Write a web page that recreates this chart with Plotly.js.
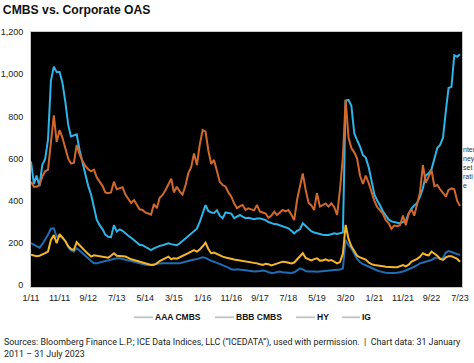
<!DOCTYPE html>
<html>
<head>
<meta charset="utf-8">
<script src="https://cdn.plot.ly/plotly-3.0.1.min.js"></script>
<style>
  html, body { margin: 0; padding: 0; background: #fff; }
  #chart { width: 474px; height: 363px; }
</style>
</head>
<body>
<div id="chart"></div>
<script>
// Monthly OAS (bps), Jan 2011 – Jul 2023
const startYear = 2011;
const tickLabels = ['1/11','11/11','9/12','7/13','5/14','3/15','1/16','11/16','9/17','7/18','5/19','3/20','1/21','11/21','9/22','7/23'];
const seriesNames = ['AAA CMBS', 'BBB CMBS', 'HY', 'IG'];

const aaaCmbs = [
  200,192,185,178,195,215,240,268,270,230,
  232,225,210,180,165,160,175,165,152,140,
  128,115,105,104,108,112,115,118,120,125,
  128,128,125,120,118,115,112,108,104,
  100,97,96,96,98,102,104,104,104,104,103,
  103,104,104,108,112,116,120,122,124,128,
  133,130,122,116,112,106,104,96,90,84,
  76,74,76,75,72,70,
  70,68,66,66,68,70,68,62,58,60,
  63,65,62,60,57,58,62,70,80,75,
  68,65,66,65,64,65,66,68,70,70,
  72,72,75,80,215,190,175,
  150,125,110,100,95,88,80,75,70,66,
  62,60,58,57,58,60,62,65,70,75,
  80,88,95,104,108,112,115,120,128,132,
  125,130,155,162,158,152,148,144
];
const bbbCmbs = [
  586,480,520,470,570,600,690,970,1035,1010,
  1010,960,870,760,705,710,715,640,585,520,
  470,430,360,310,285,265,240,230,228,285,
  255,265,258,245,235,225,215,205,192,
  190,182,175,167,175,183,187,190,195,199,195,
  192,190,198,210,222,235,245,258,268,300,
  340,380,352,345,343,355,330,318,345,343,
  340,318,325,333,325,318,
  320,315,313,316,317,313,309,300,294,290,
  289,285,278,274,270,258,246,258,265,294,
  282,270,256,250,246,243,240,238,238,242,
  246,243,246,250,875,878,850,
  720,688,657,617,605,560,500,430,400,380,
  350,330,312,303,298,296,294,300,305,340,
  365,378,390,420,460,520,530,550,605,650,
  665,700,830,935,940,1090,1083,1095
];
const hy = [
  490,467,467,475,515,540,548,690,805,680,
  735,700,650,600,578,580,665,620,590,565,
  550,540,548,510,490,470,440,436,440,491,
  455,460,465,430,410,390,404,380,360,
  357,345,340,335,385,365,415,428,450,475,505,
  440,467,445,430,470,530,560,625,570,665,
  736,728,640,575,594,546,490,475,467,440,
  420,388,365,375,380,357,
  365,360,355,380,350,345,340,320,330,349,
  333,345,357,350,357,335,309,404,475,530,
  452,390,380,357,436,373,380,388,373,388,
  370,333,452,610,878,700,650,
  630,600,520,480,520,485,440,400,370,355,
  340,310,295,268,283,280,286,330,285,341,
  360,330,385,440,570,485,515,545,470,475,
  455,440,420,452,459,455,400,375
];
const ig = [
  145,140,138,140,145,152,160,215,238,200,
  243,228,210,185,172,168,205,190,178,162,
  148,136,142,140,136,135,132,131,140,152,
  140,138,137,136,130,123,120,116,112,
  106,102,98,96,97,104,115,122,130,136,124,
  128,126,132,136,145,152,160,167,160,170,
  185,202,172,152,155,148,143,136,132,128,
  126,122,120,118,115,112,
  110,108,106,104,100,97,102,100,94,98,
  104,108,112,110,107,104,108,123,140,152,
  130,123,118,124,128,117,118,123,117,120,
  112,104,110,150,286,220,185,
  160,140,132,128,122,108,100,96,95,92,
  90,88,86,86,85,86,90,96,90,98,
  112,118,125,135,152,145,142,160,150,140,
  125,120,132,138,138,132,125,112
];

function pad(n){ return (n < 10 ? '0' : '') + n; }
const dates = aaaCmbs.map((_, i) => (startYear + Math.floor(i / 12)) + '-' + pad(i % 12 + 1) + '-01');
const tickVals = tickLabels.map(t => { const p = t.split('/'); return '20' + p[1] + '-' + pad(+p[0]) + '-01'; });

const FONT = '"Liberation Sans", Arial, sans-serif';
const colors = ['#1f6db3', '#2db4e8', '#d2692c', '#f6b52e'];
const values = [aaaCmbs, bbbCmbs, hy, ig];

const traces = values.map((v, k) => ({
  x: dates, y: v, type: 'scatter', mode: 'lines', name: seriesNames[k],
  line: { color: colors[k], width: 2 }, showlegend: false, hoverinfo: 'skip'
}));

// legend drawn below the plot (gray key lines, bold labels)
const plotL = 31, plotW = 431, plotB = 287, plotH = 255;
const px = v => (v - plotL) / plotW;
const py = v => (plotB - v) / plotH;
const legendKeys = [[134, 153], [215, 234], [296, 315], [342, 360]];
const legendY = 317.3;
const shapes = legendKeys.map(k => ({
  type: 'line', xref: 'paper', yref: 'paper',
  x0: px(k[0]), x1: px(k[1]), y0: py(legendY), y1: py(legendY),
  line: { color: '#c2c2c2', width: 1.8 }
}));
const legendAnn = seriesNames.map((n, i) => ({
  xref: 'paper', yref: 'paper', x: px(legendKeys[i][1] + 1), y: py(legendY),
  xanchor: 'left', yanchor: 'middle', showarrow: false, borderpad: 0,
  text: '<b>' + n + '</b>', font: { family: FONT, size: 8.5, color: '#111' }
}));

const layout = {
  width: 474, height: 363,
  margin: { l: 31, r: 12, t: 32, b: 76, pad: 0 },
  paper_bgcolor: '#ffffff',
  plot_bgcolor: '#000000',
  showlegend: false,
  font: { family: FONT, size: 9, color: '#222' },
  title: {
    text: '<b>CMBS vs. Corporate OAS</b>',
    font: { family: FONT, size: 12.2, color: '#111' },
    x: 0.006, xanchor: 'left', xref: 'container',
    y: 0.972, yanchor: 'middle', yref: 'container'
  },
  xaxis: {
    type: 'date',
    range: ['2011-01-01', '2023-07-22'],
    tickvals: tickVals, ticktext: tickLabels,
    showgrid: false, zeroline: false, ticks: '',
    showline: true, linecolor: '#c8c8c8', linewidth: 1, mirror: true,
    tickfont: { family: FONT, size: 9, color: '#222' },
    ticklabelstandoff: 2
  },
  yaxis: {
    range: [-8, 1200],
    tickvals: [0, 200, 400, 600, 800, 1000, 1200],
    tickformat: ',d',
    showgrid: false, zeroline: false, ticks: '',
    showline: true, linecolor: '#c8c8c8', linewidth: 1, mirror: true,
    tickfont: { family: FONT, size: 9, color: '#222' },
    ticklabelstandoff: 5
  },
  shapes: shapes,
  annotations: legendAnn.concat([
    {
      xref: 'paper', yref: 'paper', x: -0.067, y: -0.19, xanchor: 'left', yanchor: 'top',
      align: 'left', showarrow: false,
      text: 'Sources: Bloomberg Finance L.P.; ICE Data Indices, LLC (\u201cICEDATA\u201d), used with permission.  |  Chart data: 31 January<br>2011 \u2013 31 July 2023',
      font: { family: 'Roboto, ' + FONT, size: 8.9, color: '#222' }
    },
    {
      xref: 'paper', yref: 'paper', x: 1.0, y: 0.56, xanchor: 'left', yanchor: 'top',
      xshift: -1, align: 'left', showarrow: false,
      text: 'nter<br>ney<br>set<br>rati<br>e',
      font: { family: FONT, size: 7, color: '#333' }
    }
  ])
};

Plotly.newPlot('chart', traces, layout, { displayModeBar: false, staticPlot: true });
</script>
</body>
</html>
